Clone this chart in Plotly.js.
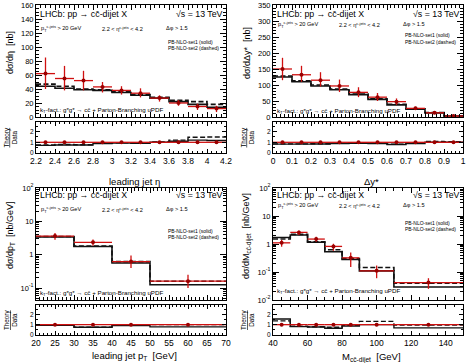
<!DOCTYPE html>
<html><head><meta charset="utf-8">
<script src="https://cdn.plot.ly/plotly-3.0.1.min.js"></script>
<style>html,body{margin:0;padding:0;background:#fff}#plot{width:474px;height:363px}</style>
</head><body><div id="plot"></div>
<script>
// ---------- DATA ----------
// Panel 1: leading jet eta
const etaEdges = [2.2,2.4,2.6,2.8,3.0,3.2,3.4,3.6,3.8,4.0,4.2];
const etaData  = [62,55,52,43,38,34,27,20,15,12];
const etaErrUp = [23,18,14,7,6,7,4,4,4,4];
const etaErrDn = [22,17,14,8,6,6,5,4,5,5];
const etaSet1  = [44,41,39,38,35,31,27,22,18,14];
const etaSet2  = [47,44,40,39,36,32,28,24,22,18];
// Panel 2: delta y*
const dyEdges = [0,0.1,0.2,0.3,0.4,0.5,0.6,0.7,0.8,0.9,1.0];
const dyData  = [150,132,115,97,77,62,48,27,13,3];
const dyErrUp = [35,28,25,20,16,13,10,5,4,2];
const dyErrDn = [35,22,20,19,15,12,10,5,4,2];
const dySet1  = [125,110,97,85,70,55,38,24,13,3];
const dySet2  = [128,113,100,87,72,57,40,26,14,3.2];
// Panel 3: leading jet pT
const ptEdges = [20,30,40,50,70];
const ptData  = [3.6,2.35,0.62,0.16];
const ptErrUp = [0.9,0.5,0.33,0.09];
const ptErrDn = [0.8,0.5,0.22,0.06];
const ptSet1  = [3.4,1.75,0.56,0.125];
const ptSet2  = [3.5,1.8,0.62,0.16];
// Panel 4: M cc-dijet
const mEdges = [40,50,60,70,80,90,110,150];
const mData  = [1.1,2.6,1.5,0.82,0.32,0.11,0.042];
const mErrUp = [0.3,0.45,0.3,0.2,0.18,0.06,0.018];
const mErrDn = [0.3,0.5,0.3,0.25,0.17,0.05,0.017];
const mSet1  = [1.7,2.1,1.15,0.53,0.28,0.11,0.029];
const mSet2  = [1.5,2.2,1.2,0.62,0.3,0.145,0.04];
// Tick labels
const etaTicks = [2.2,2.4,2.6,2.8,3,3.2,3.4,3.6,3.8,4,4.2];
const dyTicks  = [0,0.1,0.2,0.3,0.4,0.5,0.6,0.7,0.8,0.9,1];
const ptTicks  = [20,25,30,35,40,45,50,55,60,65,70];
const mTicks   = [40,60,80,100,120,140];
const logTickVals = [0.01,0.1,1,10,100];
const logTickText = ['10<sup>-2</sup>','10<sup>-1</sup>','1','10','10<sup>2</sup>'];
const ratioTicks = [0,1,2];

const yTitles = ['dσ/dη  [nb]','dσ/dΔy*  [nb]','dσ/dp<sub>T</sub>  [nb/GeV]','dσ/dM<sub>cc̄-dijet</sub>  [nb/GeV]'];
const xTitles = ['leading jet η','Δy*','leading jet p<sub>T</sub>  [GeV]','M<sub>cc̄-dijet</sub>  [GeV]'];

// ---------- LAYOUT HELPERS ----------
const W=474,H=363;
const fx = p=>p/W, fy = p=>1-p/H;
const FONT = 'Liberation Sans, Arial, sans-serif';
const panels = [
  {edges:etaEdges,data:etaData,up:etaErrUp,dn:etaErrDn,s1:etaSet1,s2:etaSet2,x0:36,x1:226,y0:5,y1:117,r0:122,r1:153,
   xr:[2.2,4.2],xt:etaTicks,xm:0.05,yr:[0,160],yd:20,ym:5,log:false, xtitleY:181,
   txt:{t:14,l2:28,pb1:42,pb2:48,kt:110}},
  {edges:dyEdges,data:dyData,up:dyErrUp,dn:dyErrDn,s1:dySet1,s2:dySet2,x0:273,x1:463,y0:5,y1:117,r0:122,r1:153,
   xr:[0,1],xt:dyTicks,xm:0.02,yr:[0,350],yd:50,ym:10,log:false, xtitleY:182,
   txt:{t:14,l2:24,pb1:35,pb2:42,kt:111}},
  {edges:ptEdges,data:ptData,up:ptErrUp,dn:ptErrDn,s1:ptSet1,s2:ptSet2,x0:36,x1:226,y0:188,y1:300,r0:305,r1:335,
   xr:[20,70],xt:ptTicks,xm:1,yr:[-1.36,2],log:true, xtitleY:356,
   txt:{t:195,l2:209,pb1:231,pb2:237,kt:293}},
  {edges:mEdges,data:mData,up:mErrUp,dn:mErrDn,s1:mSet1,s2:mSet2,x0:273,x1:463,y0:188,y1:300,r0:305,r1:335,
   xr:[40,150],xt:mTicks,xm:5,yr:[-2,2],log:true, xtitleY:357,
   txt:{t:195,l2:205,pb1:223,pb2:229,kt:291}}
];

const traces=[]; const layout={
  width:W,height:H,margin:{l:0,r:0,t:0,b:0},paper_bgcolor:'#fff',plot_bgcolor:'#fff',
  showlegend:false,font:{family:FONT,color:'#000',size:8},annotations:[]
};
const an = (n)=> n===1?'':String(n);
const RED='#d01010', DRED='#9a0000', BLK='#111';
const DASH='5px,2.5px';

function stepY(v){return v.concat([v[v.length-1]]);}

panels.forEach((P,i)=>{
  const mi=2*i+1, ri=2*i+2;
  const xm='x'+an(mi), ym='y'+an(mi), xr='x'+an(ri), yr='y'+an(ri);
  const centers=P.data.map((_,k)=>(P.edges[k]+P.edges[k+1])/2);
  const halfw=P.data.map((_,k)=>(P.edges[k+1]-P.edges[k])/2);
  // main: theory
  traces.push({type:'scatter',mode:'lines',x:P.edges,y:stepY(P.s1),line:{shape:'hv',color:BLK,width:1.6},xaxis:xm,yaxis:ym,hoverinfo:'skip'});
  traces.push({type:'scatter',mode:'lines',x:P.edges,y:stepY(P.s2),line:{shape:'hv',color:BLK,width:1.6,dash:DASH},xaxis:xm,yaxis:ym,hoverinfo:'skip'});
  // main: data
  traces.push({type:'scatter',mode:'markers',x:centers,y:P.data,xaxis:xm,yaxis:ym,
    marker:{color:DRED,size:4},
    error_x:{type:'data',array:halfw,color:RED,thickness:1.3,width:0},
    error_y:{type:'data',symmetric:false,array:P.up,arrayminus:P.dn,color:RED,thickness:1.3,width:0}});
  // ratio
  const r1=P.s1.map((v,k)=>v/P.data[k]);
  const r2=P.s2.map((v,k)=>v/P.data[k]);
  const rd=P.data.map(v=>v/v);
  traces.push({type:'scatter',mode:'lines',x:P.edges,y:stepY(r1),line:{shape:'hv',color:BLK,width:1.4},xaxis:xr,yaxis:yr});
  traces.push({type:'scatter',mode:'lines',x:P.edges,y:stepY(r2),line:{shape:'hv',color:BLK,width:1.4,dash:DASH},xaxis:xr,yaxis:yr});
  traces.push({type:'scatter',mode:'markers',x:centers,y:rd,xaxis:xr,yaxis:yr,
    marker:{color:DRED,size:4},
    error_x:{type:'data',array:halfw,color:RED,thickness:1.3,width:0}});

  const xdom=[fx(P.x0),fx(P.x1)];
  const common={showline:true,linecolor:'#000',linewidth:1,mirror:'allticks',ticks:'inside',
    zeroline:false,showgrid:false,tickcolor:'#000',ticklen:5};
  layout['xaxis'+an(mi)]=Object.assign({},common,{domain:xdom,range:P.xr,anchor:'y'+an(mi),
    tickvals:P.xt,showticklabels:false,minor:{ticks:'inside',ticklen:3,dtick:P.xm,tickcolor:'#000'}});
  layout['xaxis'+an(ri)]=Object.assign({},common,{domain:xdom,range:P.xr,anchor:'y'+an(ri),
    tickvals:P.xt,ticklen:4,tickfont:{size:8.5,family:FONT},minor:{ticks:'inside',ticklen:2,dtick:P.xm,tickcolor:'#000'}});
  const ymain=Object.assign({},common,{domain:[fy(P.y1),fy(P.y0)],anchor:'x'+an(mi),range:P.yr,
    tickfont:{size:7.5,family:FONT},ticklen:6});
  if(P.log){
    Object.assign(ymain,{type:'log',tickvals:logTickVals,ticktext:logTickText,
      minor:{ticks:'inside',ticklen:3,tickcolor:'#000',tickvals:[0.02,0.03,0.04,0.05,0.06,0.07,0.08,0.09,0.2,0.3,0.4,0.5,0.6,0.7,0.8,0.9,2,3,4,5,6,7,8,9,20,30,40,50,60,70,80,90]}});
  } else {
    Object.assign(ymain,{dtick:P.yd,tick0:0,minor:{ticks:'inside',ticklen:3,dtick:P.ym,tickcolor:'#000'}});
  }
  layout['yaxis'+an(mi)]=ymain;
  layout['yaxis'+an(ri)]=Object.assign({},common,{domain:[fy(P.r1),fy(P.r0)],anchor:'x'+an(ri),range:[0,2.9],
    tickvals:ratioTicks,tickfont:{size:6.5,family:FONT},ticklen:4,minor:{ticks:'inside',ticklen:2,dtick:0.5,tickcolor:'#000'}});

  // annotations
  const A=(text,x,y,size,xanchor,extra)=>layout.annotations.push(Object.assign({text,x:fx(x),y:fy(y),xref:'paper',yref:'paper',
     showarrow:false,xanchor:xanchor||'left',yanchor:'middle',font:{size,family:FONT,color:'#000'}},extra||{}));
  const T=P.txt;
  A('LHCb: pp → cc̄-dijet X',P.x0+2,T.t,8.8);
  A('√s = 13 TeV',P.x1-1,T.t,8.8,'right');
  A('p<sub>T</sub><sup>c-jets</sup> > 20 GeV',P.x0+3,T.l2,5.6);
  A('2.2 < η<sup>c-jets</sup> < 4.2',P.x0+64,T.l2,5.6);
  A('Δφ > 1.5',P.x0+128,T.l2,5.6);
  A('PB-NLO-set1 (solid)',P.x0+130,T.pb1,5);
  A('PB-NLO-set2 (dashed)',P.x0+130,T.pb2,5);
  A('k<sub>T</sub>-fact.: g*g* → cc̄ + Parton-Branching uPDF',P.x0+2,T.kt,6.2);
  // axis titles
  A(yTitles[i],P.x0-26,(P.y0+P.y1)/2-8,9,'center',{textangle:-90});
  A('<u>Theory</u><br>Data',P.x0-26,(P.r0+P.r1)/2,6.3,'center',{textangle:-90});
  A(xTitles[i],(P.x0+P.x1)/2+3,P.xtitleY,9.5,'center');
});

Plotly.newPlot('plot',traces,layout,{staticPlot:true,displayModeBar:false});
</script></body></html>
